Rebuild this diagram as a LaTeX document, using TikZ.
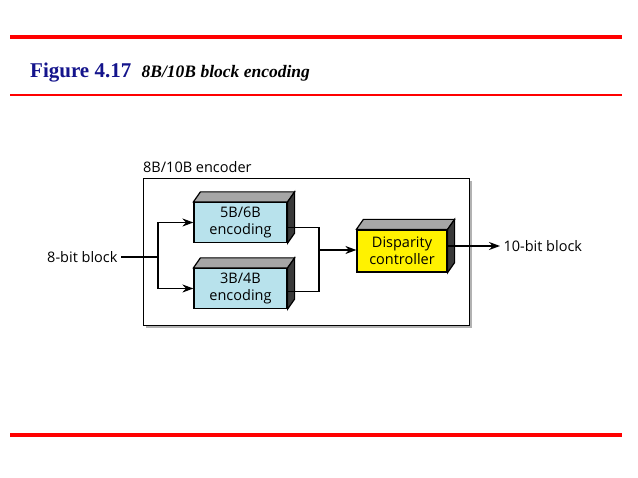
\documentclass[tikz,border=0pt]{standalone}
\usepackage{fontspec}
\setmainfont{Open Sans}
\newfontfamily\titlefont{Liberation Serif}
\usetikzlibrary{arrows.meta,shadows}
\definecolor{boxblue}{RGB}{184,226,236}
\definecolor{titleblue}{RGB}{20,20,140}
\tikzset{
  redrule/.style={draw=red,line width=4.5pt},
  blk/.style={draw=black,line width=1.2pt,minimum width=93pt,minimum height=40pt,inner sep=0pt,
    align=center,font=\fontsize{14.5}{17.5}\selectfont},
  lbl/.style={font=\fontsize{14.5}{15.5}\selectfont},
  conn/.style={line width=1.6pt},
  arr/.style={line width=1.6pt,-{Stealth[length=11pt,width=8pt]}}
}
\newcommand{\boxdepth}[1]{%
  \fill[gray!70,draw=black,line width=1.2pt] (#1.north west) -- ++(7,-10) -- ([shift={(7,-10)}]#1.north east) -- (#1.north east) -- cycle;
  \fill[gray!45!black,draw=black,line width=1.2pt] (#1.north east) -- ++(7,-10) -- ([shift={(7,-10)}]#1.south east) -- (#1.south east) -- cycle;}
\begin{document}
\begin{tikzpicture}[x=1pt,y=-1pt]
\useasboundingbox (0,0) rectangle (638,478);
\draw[redrule] (10,37) -- (622,37);
\draw[draw=red,line width=1.2pt] (10,95) -- (622,95);
\draw[redrule] (10,435) -- (622,435);
\node[anchor=base west,inner sep=0pt,text=titleblue,font=\titlefont\bfseries\fontsize{21}{22}\selectfont] (fig) at (30,78) {Figure 4.17};
\node[anchor=base west,inner sep=0pt,font=\titlefont\bfseries\itshape\fontsize{17.5}{18}\selectfont] (cap) at ([xshift=10]fig.base east) {8B/10B block encoding};
% encoder frame
\fill[gray!60] (146,181) rectangle (472,328);
\node[draw,line width=1.2pt,fill=white,minimum width=326pt,minimum height=147pt,anchor=north west] (enc) at (143,178) {};
\node[lbl,anchor=south west,inner sep=0pt] (enclbl) at (143,173) {8B/10B encoder};
% blocks
\node[blk,fill=boxblue] (b56) at (240.5,222.5) {5B/6B\\encoding};
\node[blk,fill=boxblue] (b34) at (240.5,288.5) {3B/4B\\encoding};
\node[blk,fill=yellow,minimum width=90pt,minimum height=42pt] (disp) at (402,251) {Disparity\\controller};
\boxdepth{b56}\boxdepth{b34}\boxdepth{disp}
% input
\node[lbl,anchor=east] (in) at (121,257) {8-bit block};
\coordinate (split) at (158,257);
\draw[conn] (in.east) -- (split);
\draw[arr] (split) |- (b56.west);
\draw[arr] (split) |- (b34.west);
\coordinate (merge) at (319,250);
\draw[conn] ([yshift=-5]b56.east) -| (merge);
\draw[conn] ([yshift=-3]b34.east) -| (merge);
\draw[arr] (merge) -- (disp.west |- merge);
\node[lbl,anchor=west] (out) at (500,246) {10-bit block};
\draw[arr] (disp.east |- out) -- (out.west);
\end{tikzpicture}
\end{document}
